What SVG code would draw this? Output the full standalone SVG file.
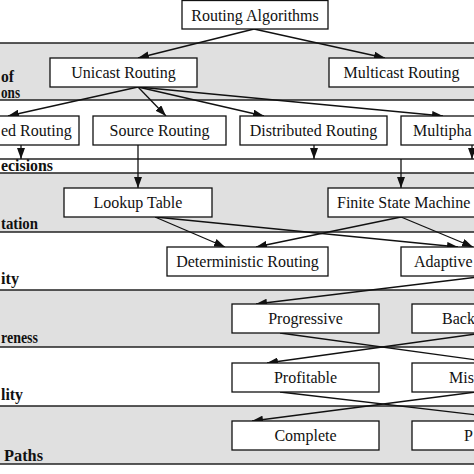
<svg xmlns="http://www.w3.org/2000/svg" width="474" height="474" viewBox="0 0 474 474">
<style>
.band{fill:#e0e0e0;stroke:none}
.bl{stroke:#222;stroke-width:1.5;fill:none}
.lab{font-family:"Liberation Serif","Times New Roman",serif;font-weight:bold;font-size:16px;fill:#111}
.node rect{fill:#fff;stroke:#111;stroke-width:1.3}
.node text{font-family:"Liberation Serif","Times New Roman",serif;font-size:16px;fill:#111;text-anchor:middle}
.node text.l{text-anchor:start}
.c{stroke:#111;stroke-width:1.3;fill:none;marker-end:url(#ah)}
</style>
<defs>
<marker id="ah" markerUnits="userSpaceOnUse" markerWidth="11" markerHeight="8" refX="11" refY="4" orient="auto">
<path d="M0,0 L11,4 L0,8 z" fill="#111"/>
</marker>
</defs>
<rect width="474" height="474" fill="#fff"/>
<g id="bands">
<rect class="band" x="0" y="43" width="474" height="57"/>
<rect class="band" x="0" y="173" width="474" height="59"/>
<rect class="band" x="0" y="290" width="474" height="57"/>
<rect class="band" x="0" y="406" width="474" height="58"/>
<line class="bl" x1="0" y1="43" x2="474" y2="43"/>
<line class="bl" x1="0" y1="100" x2="474" y2="100"/>
<line class="bl" x1="0" y1="159" x2="474" y2="159"/>
<line class="bl" x1="0" y1="173" x2="474" y2="173"/>
<line class="bl" x1="0" y1="232" x2="474" y2="232"/>
<line class="bl" x1="0" y1="290" x2="474" y2="290"/>
<line class="bl" x1="0" y1="347" x2="474" y2="347"/>
<line class="bl" x1="0" y1="406" x2="474" y2="406"/>
<line class="bl" x1="0" y1="464" x2="474" y2="464"/>
</g>
<g id="band-labels">
<text class="lab" x="1" y="82" textLength="13" lengthAdjust="spacingAndGlyphs">of</text>
<text class="lab" x="1" y="98" textLength="19" lengthAdjust="spacingAndGlyphs">ons</text>
<text class="lab" x="1" y="171" textLength="52" lengthAdjust="spacingAndGlyphs">ecisions</text>
<text class="lab" x="1" y="229" textLength="37" lengthAdjust="spacingAndGlyphs">tation</text>
<text class="lab" x="1" y="284" textLength="18" lengthAdjust="spacingAndGlyphs">ity</text>
<text class="lab" x="1" y="343" textLength="37" lengthAdjust="spacingAndGlyphs">reness</text>
<text class="lab" x="1" y="400" textLength="22" lengthAdjust="spacingAndGlyphs">lity</text>
<text class="lab" x="4" y="461" textLength="39" lengthAdjust="spacingAndGlyphs">Paths</text>
</g>
<g id="connectors">
<line class="c" x1="254" y1="29" x2="138" y2="58"/>
<line class="c" x1="254" y1="29" x2="385" y2="58"/>
<line class="c" x1="138" y1="87" x2="8" y2="116"/>
<line class="c" x1="138" y1="87" x2="166" y2="116"/>
<line class="c" x1="138" y1="87" x2="264" y2="116"/>
<line class="c" x1="138" y1="87" x2="443" y2="116"/>
<line class="c" x1="21" y1="145" x2="21" y2="159"/>
<line class="c" x1="138" y1="145" x2="138" y2="188"/>
<line class="c" x1="314" y1="145" x2="314" y2="159"/>
<line class="c" x1="472" y1="145" x2="472" y2="159"/>
<line class="c" x1="401" y1="159" x2="401" y2="188"/>
<line class="c" x1="155" y1="217" x2="225" y2="247"/>
<line class="c" x1="155" y1="217" x2="458" y2="247"/>
<line class="c" x1="401" y1="217" x2="256" y2="247"/>
<line class="c" x1="401" y1="217" x2="473" y2="247"/>
<line class="c" x1="478" y1="277" x2="256" y2="304"/>
<line class="c" x1="280" y1="333" x2="499" y2="363"/>
<line class="c" x1="483" y1="333" x2="267" y2="363"/>
<line class="c" x1="280" y1="392" x2="529" y2="421"/>
<line class="c" x1="476" y1="392" x2="252" y2="421"/>
</g>
<g id="routing-algorithms" class="node"><rect x="182" y="0.5" width="146" height="28.5"/><text x="255" y="20.5">Routing Algorithms</text></g>
<g id="unicast" class="node"><rect x="50" y="58" width="147" height="29"/><text x="123.5" y="78">Unicast Routing</text></g>
<g id="multicast" class="node"><rect x="329" y="58" width="150" height="29"/><text x="401.5" y="78">Multicast Routing</text></g>
<g id="centralized" class="node"><rect x="-70" y="116" width="149" height="29"/><text class="l" x="1" y="136">ed Routing</text></g>
<g id="source" class="node"><rect x="93" y="116" width="133" height="29"/><text x="159.5" y="136">Source Routing</text></g>
<g id="distributed" class="node"><rect x="240" y="116" width="147" height="29"/><text x="313.5" y="136">Distributed Routing</text></g>
<g id="multiphase" class="node"><rect x="401" y="116" width="80" height="29"/><text class="l" x="413" y="136">Multipha</text></g>
<g id="lookup" class="node"><rect x="64" y="188" width="148" height="29"/><text x="138" y="208">Lookup Table</text></g>
<g id="fsm" class="node"><rect x="328" y="188" width="153" height="29"/><text class="l" x="337" y="208">Finite State Machine</text></g>
<g id="deterministic" class="node"><rect x="167" y="247" width="161" height="29"/><text x="247.5" y="267">Deterministic Routing</text></g>
<g id="adaptive" class="node"><rect x="401" y="247" width="80" height="29"/><text class="l" x="414" y="267">Adaptive</text></g>
<g id="progressive" class="node"><rect x="232" y="304" width="147" height="29"/><text x="305.5" y="324">Progressive</text></g>
<g id="backtracking" class="node"><rect x="412" y="304" width="70" height="29"/><text class="l" x="442" y="324">Back</text></g>
<g id="profitable" class="node"><rect x="232" y="363" width="147" height="29"/><text x="305.5" y="383">Profitable</text></g>
<g id="misrouting" class="node"><rect x="412" y="363" width="70" height="29"/><text class="l" x="449" y="383">Mis</text></g>
<g id="complete" class="node"><rect x="232" y="421" width="147" height="29"/><text x="305.5" y="441">Complete</text></g>
<g id="partial" class="node"><rect x="412" y="421" width="70" height="29"/><text class="l" x="464" y="441">P</text></g>
</svg>
